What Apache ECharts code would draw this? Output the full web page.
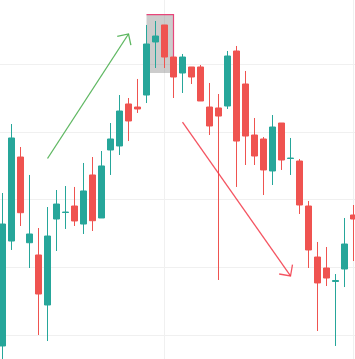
<!DOCTYPE html>
<html>
<head>
<meta charset="utf-8">
<script src="https://cdn.jsdelivr.net/npm/echarts@6/dist/echarts.min.js"></script>
<style>
  html, body { margin: 0; padding: 0; background: #fff; }
  #chart { width: 355px; height: 359px; }
</style>
</head>
<body>
<div id="chart"></div>
<script>
// bar index along the time axis
var bars = [];
for (var k = 0; k < 40; k++) bars.push(k);

// OHLC
var opens = [8.38, 23.87, 36.27, 23.62, 21.81, 14.43, 27.12, 28.08, 29.04, 26.38,
  33.62, 27.27, 37.31, 37.90, 44.10, 43.65, 45.42, 53.25, 55.76, 51.03,
  48.67, 49.56, 49.56, 43.65, 43.51, 43.80, 51.92, 47.05, 39.52, 38.93,
  34.21, 41.29, 36.05, 35.68, 29.04, 21.51, 19.89, 17.90, 19.74, 27.71];
var closes = [26.38, 39.08, 28.05, 24.91, 16.05, 24.61, 29.33, 28.15, 26.83, 31.26,
  26.87, 34.95, 38.93, 43.06, 41.59, 43.36, 52.95, 54.13, 51.03, 48.08,
  51.03, 48.08, 44.54, 40.85, 42.32, 51.18, 38.63, 39.37, 36.42, 34.36,
  40.70, 35.83, 36.12, 29.19, 22.55, 17.68, 18.41, 18.04, 23.43, 27.12];
var lows = [5.5, 22.55, 26.09, 19.89, 10.00, 9.11, 22.40, 25.65, 26.09, 24.91,
  25.35, 27.27, 33.62, 36.57, 38.63, 42.77, 44.24, 49.41, 49.41, 44.98,
  45.72, 47.05, 44.54, 39.52, 18.12, 43.36, 31.85, 35.09, 35.09, 30.66,
  32.14, 34.36, 33.62, 27.86, 19.89, 10.59, 17.23, 8.38, 17.08, 20.92];
var highs = [30.96, 41.14, 37.75, 33.62, 25.79, 28.89, 31.40, 31.99, 31.85, 35.39,
  36.27, 37.16, 41.29, 45.42, 44.98, 47.79, 55.76, 56.35, 55.76, 51.03,
  51.48, 49.56, 49.85, 47.20, 45.57, 51.92, 52.66, 48.97, 42.03, 39.22,
  42.47, 41.29, 39.08, 35.98, 29.78, 23.73, 22.99, 19.00, 27.27, 29.19];

// drawn annotations, in bar index / price units
var arrowUp = [[4.98, 36.05], [14.06, 54.43]];
var arrowDown = [[19.98, 41.43], [31.94, 18.71]];
var boxCorners = [[15.9, 57.28], [18.95, 48.67]];

var candles = [];
for (var i = 0; i < bars.length; i++) {
  candles.push([opens[i], closes[i], lows[i], highs[i]]);
}

var chart = echarts.init(document.getElementById("chart"));

var option = {
  animation: false,
  backgroundColor: "#fff",
  grid: [
    { left: -2, width: 360, top: -3.75, height: 406.5, outerBoundsMode: "none" },
    { left: -24.5, width: 378, top: -3.75, height: 406.5, outerBoundsMode: "none" }
  ],
  xAxis: [
    {
      type: "category",
      data: bars,
      gridIndex: 0,
      boundaryGap: true,
      axisLine: { show: false },
      axisTick: { show: false },
      axisLabel: { show: false },
      splitLine: { show: false }
    },
    {
      // only for the vertical grid lines
      type: "value",
      gridIndex: 1,
      min: -21,
      max: 21,
      interval: 21,
      axisLine: { show: false },
      axisTick: { show: false },
      axisLabel: { show: false },
      splitLine: { show: true, lineStyle: { color: "#f0f0f0", width: 1 } }
    }
  ],
  yAxis: [
    {
      type: "value",
      gridIndex: 0,
      min: 0,
      max: 60,
      interval: 10,
      axisLine: { show: false },
      axisTick: { show: false },
      axisLabel: { show: false },
      splitLine: { show: true, lineStyle: { color: "#f0f0f0", width: 1 } }
    },
    {
      type: "value",
      gridIndex: 1,
      min: 0,
      max: 60,
      show: false,
      splitLine: { show: false }
    }
  ],
  series: [
    {
      type: "candlestick",
      xAxisIndex: 0,
      yAxisIndex: 0,
      data: candles,
      barWidth: 6,
      z: 5,
      itemStyle: {
        color: "#26a69a",
        color0: "#ef5350",
        borderColor: "#26a69a",
        borderColor0: "#ef5350",
        borderWidth: 1
      }
    }
  ]
};
chart.setOption(option);

function px(p) {
  return chart.convertToPixel({ xAxisIndex: 0, yAxisIndex: 0 }, p);
}

function arrowGraphics(pts, color) {
  var a = px(pts[0]), b = px(pts[1]);
  var ang = Math.atan2(a[1] - b[1], a[0] - b[0]);
  var len = 11.5, spread = Math.PI / 4;
  var h1 = [b[0] + len * Math.cos(ang + spread), b[1] + len * Math.sin(ang + spread)];
  var h2 = [b[0] + len * Math.cos(ang - spread), b[1] + len * Math.sin(ang - spread)];
  return [
    {
      type: "polyline", z: 20, silent: true,
      shape: { points: [a, b] },
      style: { stroke: color, lineWidth: 1.3, fill: null }
    },
    {
      type: "polyline", z: 20, silent: true,
      shape: { points: [h1, b, h2] },
      style: { stroke: color, lineWidth: 1.3, fill: null }
    }
  ];
}

var c1 = px(boxCorners[0]), c2 = px(boxCorners[1]);
var graphics = [
  {
    type: "rect", z: 1, silent: true,
    shape: { x: c1[0], y: c1[1], width: c2[0] - c1[0], height: c2[1] - c1[1] },
    style: { fill: "rgba(120,120,120,0.38)" }
  },
  {
    type: "polyline", z: 1, silent: true,
    shape: { points: [[c1[0], c1[1]], [c2[0], c1[1]], [c2[0], c2[1]]] },
    style: { stroke: "#e8457a", lineWidth: 1.2, fill: null }
  }
]
  .concat(arrowGraphics(arrowUp, "rgba(76,175,80,0.9)"))
  .concat(arrowGraphics(arrowDown, "rgba(242,54,69,0.85)"));

chart.setOption({ graphic: graphics });

window.addEventListener("resize", function () { chart.resize(); });
</script>
</body>
</html>
